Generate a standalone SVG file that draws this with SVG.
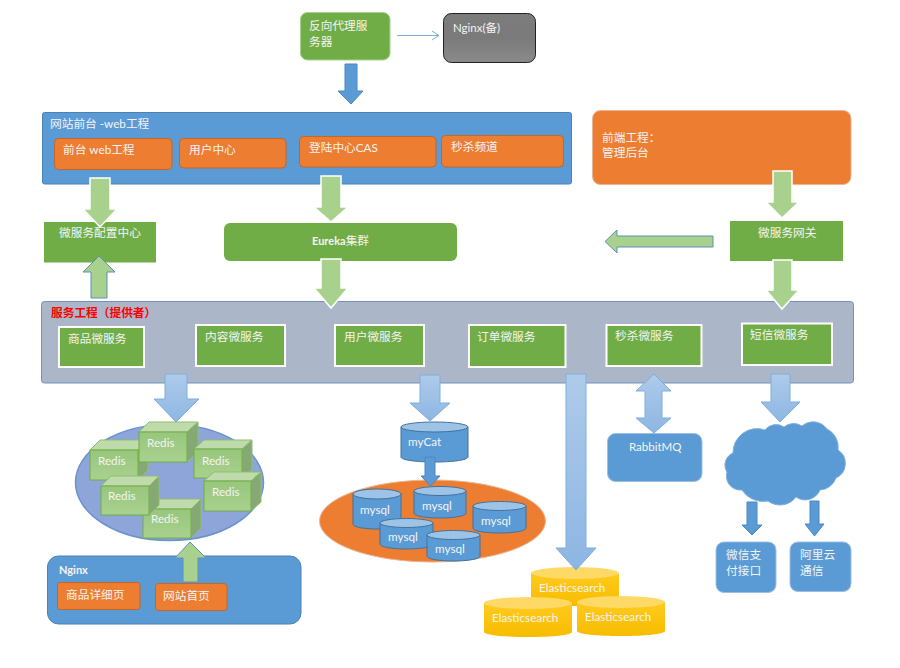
<svg xmlns="http://www.w3.org/2000/svg" width="900" height="668" viewBox="0 0 900 668">
<style>
text{font-family:"Lato","Noto Sans CJK SC","Noto Sans",sans-serif;font-size:11.700px;fill:#f4f4f4}
.b{fill:#5B9BD5;stroke:#4A82B5;stroke-width:1}
.bl{fill:#5B9BD5;stroke:#9DBFE2;stroke-width:1}
.o{fill:#ED7D31;stroke:#C4652A;stroke-width:1}
.ol{fill:#ED7D31;stroke:#E9B592;stroke-width:1}
.gs{fill:#70AD47;stroke:#fff;stroke-width:2}
.ag{fill:#A9D18E;stroke:#fff;stroke-width:1.500}
.ags{fill:#A9D18E;stroke:#5F8FB8;stroke-width:1}
.ab{fill:url(#blueArrow);stroke:#7FAEDD;stroke-width:1}
.ad{fill:#5B9BD5;stroke:#4A86BD;stroke-width:1}
.front{fill:url(#cubeFront);stroke:#70AD47;stroke-width:1}
.top{fill:#BFDBAB;stroke:#8DBF6E;stroke-width:1}
.side{fill:#85A875;stroke:#8DBF6E;stroke-width:1}
.cb{fill:#5B9BD5;stroke:#41719C;stroke-width:1}
.ct{fill:#9DC3E6;stroke:#41719C;stroke-width:1}
.ey{fill:url(#gold)}
.et{fill:#FFD966}
</style>
<defs>
<linearGradient id="blueArrow" x1="0" y1="0" x2="0" y2="1"><stop offset="0" stop-color="#AECBEA"/><stop offset="1" stop-color="#8DB6E3"/></linearGradient>
<linearGradient id="grey" x1="0" y1="0" x2="0" y2="1"><stop offset="0" stop-color="#7C7C7C"/><stop offset="0.5" stop-color="#7A7A7A"/><stop offset="1" stop-color="#8A8A8A"/></linearGradient>
<linearGradient id="cubeFront" x1="0" y1="0" x2="0" y2="1"><stop offset="0" stop-color="#97C67C"/><stop offset="1" stop-color="#A9D18E"/></linearGradient>
<linearGradient id="gold" x1="0" y1="0" x2="0" y2="1"><stop offset="0" stop-color="#FFCB1F"/><stop offset="1" stop-color="#F7BC00"/></linearGradient>
</defs>

<g id="proxy"><rect x="300.500" y="12.500" width="89.500" height="47.500" rx="7" fill="#70AD47" stroke="#A8CF90"/><text x="309" y="30">反向代理服</text><text x="309" y="46">务器</text></g>
<g id="nginx-backup"><rect x="443.500" y="13.500" width="92" height="49" rx="8" fill="url(#grey)" stroke="#222"/><text x="453" y="32" style="font-size:11.500px">Nginx(备)</text></g>

<g id="web"><rect x="42.500" y="112.500" width="529" height="71.500" rx="2" class="b"/><text x="50" y="128">网站前台 -web工程</text></g>
<g id="web-front"><rect x="54.500" y="138.500" width="117.500" height="31" rx="4" class="o"/><text x="63" y="154">前台 web工程</text></g>
<g id="web-user"><rect x="179.500" y="138.500" width="106.500" height="29.500" rx="4" class="o"/><text x="189" y="154">用户中心</text></g>
<g id="web-cas"><rect x="299.500" y="136.500" width="136.500" height="30.500" rx="4" class="o"/><text x="309" y="152">登陆中心CAS</text></g>
<g id="web-seckill"><rect x="441.500" y="135.500" width="122" height="31.500" rx="4" class="o"/><text x="451" y="151">秒杀频道</text></g>

<g id="admin"><rect x="592.500" y="110.500" width="258.500" height="74" rx="8" class="ol"/><text x="602" y="142">前端工程：</text><text x="602" y="157">管理后台</text></g>
<g id="config"><rect x="44" y="222" width="112" height="40.500" fill="#70AD47"/><text x="59" y="237">微服务配置中心</text></g>
<g id="eureka"><rect x="224" y="223" width="233" height="38" rx="6" fill="#70AD47"/><text x="312" y="245"><tspan style="font-weight:bold;font-size:11px">Eureka</tspan>集群</text></g>
<g id="gateway"><rect x="730" y="221" width="113" height="40" fill="#70AD47"/><text x="758" y="237">微服务网关</text></g>

<g id="service"><rect x="41.500" y="301.500" width="812" height="81.500" rx="3" fill="#ABB6C9" stroke="#6F93BD"/><text x="51" y="317" style="fill:#FF0000;font-weight:bold">服务工程（提供者）</text></g>
<g id="svc-goods"><rect x="59" y="327" width="85" height="40" class="gs"/><text x="68" y="343">商品微服务</text></g>
<g id="svc-content"><rect x="196" y="325" width="89" height="41" class="gs"/><text x="205" y="341">内容微服务</text></g>
<g id="svc-user"><rect x="335" y="325" width="89" height="41" class="gs"/><text x="344" y="341">用户微服务</text></g>
<g id="svc-order"><rect x="469" y="325" width="96.500" height="42" class="gs"/><text x="477" y="341">订单微服务</text></g>
<g id="svc-seckill"><rect x="606.500" y="325" width="95" height="41" class="gs"/><text x="615" y="340">秒杀微服务</text></g>
<g id="svc-sms"><rect x="742" y="323.500" width="90" height="41.500" class="gs"/><text x="750" y="339">短信微服务</text></g>

<g id="redis-cluster">
<ellipse cx="169.500" cy="482.500" rx="94" ry="58" fill="#8EA5D9" stroke="#6C93CF" stroke-width="1.500"/>
<g id="redis-1"><polygon class="top" points="90,450 100,440 148,440 138,450"/><polygon class="side" points="138,450 148,440 148,470 138,480"/><rect class="front" x="90" y="450" width="48" height="30"/><text x="98" y="465">Redis</text></g>
<g id="redis-2"><polygon class="top" points="139,432 149,422 198,422 187,432"/><polygon class="side" points="187,432 198,422 198,452 187,462"/><rect class="front" x="139" y="432" width="48" height="30"/><text x="147" y="447">Redis</text></g>
<g id="redis-3"><polygon class="top" points="194,449 204,440 252,440 242,449"/><polygon class="side" points="242,449 252,440 252,469 242,478"/><rect class="front" x="194" y="449" width="48" height="29"/><text x="202" y="465">Redis</text></g>
<g id="redis-4"><polygon class="top" points="204,481 214,472 261,472 251,481"/><polygon class="side" points="251,481 261,472 261,502 251,511"/><rect class="front" x="204" y="481" width="47" height="30"/><text x="212" y="496">Redis</text></g>
<g id="redis-6"><polygon class="top" points="143,509 153,499 201,499 191,509"/><polygon class="side" points="191,509 201,499 201,528 191,538"/><rect class="front" x="143" y="509" width="48" height="29"/><text x="151" y="523">Redis</text></g>
<g id="redis-5"><polygon class="top" points="101,486 111,476 159,476 149,486"/><polygon class="side" points="149,486 159,476 159,505 149,515"/><rect class="front" x="101" y="486" width="48" height="29"/><text x="108" y="500">Redis</text></g>
</g>

<g id="nginx"><rect x="47.500" y="556" width="253.500" height="68" rx="11" class="b"/><text x="59" y="574" style="font-size:11px;font-weight:bold">Nginx</text></g>
<g id="page-item"><rect x="57.500" y="582.500" width="82.500" height="27" rx="3" class="o"/><text x="66" y="599">商品详细页</text></g>
<g id="page-home"><rect x="155.500" y="583.500" width="71.500" height="27" rx="3" class="o"/><text x="163" y="600">网站首页</text></g>

<g id="mycat"><path class="cb" d="M401 427V457C401 460 416 462 434.500 462S468 460 468 457V427Z"/><ellipse class="ct" cx="434.500" cy="427" rx="33.500" ry="5"/><text x="408" y="446">myCat</text></g>

<g id="mysql-cluster">
<ellipse cx="432.500" cy="521" rx="113" ry="41" class="ol"/>
<g id="mysql-1"><path class="cb" d="M353 494V524C353 527 364 529 377 529S401 527 401 524V494Z"/><ellipse class="ct" cx="377" cy="494" rx="24" ry="5"/><text x="360" y="514">mysql</text></g>
<g id="mysql-2"><path class="cb" d="M414 491V513C414 516 426 518 440 518S466 516 466 513V491Z"/><ellipse class="ct" cx="440" cy="491" rx="26" ry="4.500"/><text x="422" y="510">mysql</text></g>
<g id="mysql-3"><path class="cb" d="M473 506V528C473 531 485 533 499.500 533S526 531 526 528V506Z"/><ellipse class="ct" cx="499.500" cy="506" rx="26.500" ry="4.500"/><text x="481" y="525">mysql</text></g>
<g id="mysql-4"><path class="cb" d="M380 523V544C380 547 392 549 406.500 549S433 547 433 544V523Z"/><ellipse class="ct" cx="406.500" cy="523" rx="26.500" ry="4.500"/><text x="388" y="541">mysql</text></g>
<g id="mysql-5"><path class="cb" d="M427 535V556C427 559 439 561 453.500 561S480 559 480 556V535Z"/><ellipse class="ct" cx="453.500" cy="535" rx="26.500" ry="4.500"/><text x="435" y="553">mysql</text></g>
</g>

<g id="es-1"><path class="ey" d="M531 573V601C531 604 551 606 575 606S619 604 619 601V573Z"/><ellipse class="et" cx="575" cy="573" rx="44" ry="6"/><text x="539" y="592">Elasticsearch</text></g>
<g id="es-2"><path class="ey" d="M484 603V632C484 635 504 637 528 637S572 635 572 632V603Z"/><ellipse class="et" cx="528" cy="603" rx="44" ry="6"/><text x="492" y="622">Elasticsearch</text></g>
<g id="es-3"><path class="ey" d="M577 602V631C577 634 597 636 621 636S665 634 665 631V602Z"/><ellipse class="et" cx="621" cy="602" rx="44" ry="6"/><text x="585" y="621">Elasticsearch</text></g>

<g id="rabbitmq"><rect x="607.500" y="433.500" width="94.500" height="48" rx="8" class="bl"/><text x="629" y="451" style="font-size:11.500px">RabbitMQ</text></g>
<g id="cloud"><path fill="#5B9BD5" stroke="#7FAEDB" d="M733 453A24 24 0 0 1 765 430A14 14 0 0 1 784 427A15 15 0 0 1 802 426A17 17 0 0 1 827 429A20 20 0 0 1 838 450A16 16 0 0 1 836 478A18 18 0 0 1 820 490A16 16 0 0 1 796 497A20 20 0 0 1 768 501A25 25 0 0 1 742 490A14 14 0 0 1 727 472A13 13 0 0 1 733 453Z"/></g>
<g id="wechat-pay"><rect x="716" y="542" width="60" height="50.500" rx="8" class="bl"/><text x="726" y="559">微信支</text><text x="726" y="575">付接口</text></g>
<g id="aliyun"><rect x="790" y="542" width="61" height="49.500" rx="8" class="bl"/><text x="800" y="559">阿里云</text><text x="800" y="575">通信</text></g>

<g id="connectors">
<path d="M397 35.500H438M432 31L439 35.500L432 40" fill="none" stroke="#7FAEDD" stroke-width="1"/>
<polygon class="ad" points="345,64 357,64 357,91 363,91 351,104 338,91 345,91"/>
<polygon class="ag" points="90,178 110,178 110,209 117,209 100,227 83,209 90,209"/>
<polygon class="ags" points="91,298 107,298 107,272 115,272 99,256 83,272 91,272"/>
<polygon class="ag" points="321,176 341,176 341,207 348,207 331,222 314,207 321,207"/>
<polygon class="ag" points="321,259 341,259 341,288 348,288 331,308 314,288 321,288"/>
<polygon class="ag" points="773,171 792,171 792,202 799,202 782,218 766,202 773,202"/>
<polygon class="ag" points="773,260 792,260 792,290 799,290 782,309 766,290 773,290"/>
<polygon class="ags" points="713,236 617,236 617,230 605,241.500 617,253 617,247 713,247"/>
<polygon class="ab" points="165,374 187,374 187,399 199,399 176,422 154,399 165,399"/>
<polygon class="ags" points="183,582 198,582 198,558 206,558 190,542 175,558 183,558"/>
<polygon class="ab" points="420,375 440,375 440,403 450,403 430,421 410,403 420,403"/>
<polygon class="ad" points="425,457 435,457 435,476 440,476 430.500,486 421,476 425,476"/>
<polygon class="ab" points="566,374 586,374 586,548 596,548 576,570 556,548 566,548"/>
<polygon class="ab" points="654,374 671,391 662,391 662,418 671,418 654,433 636,418 645,418 645,391 636,391"/>
<polygon class="ab" points="771,374 790,374 790,402 800,402 780,422 761,402 771,402"/>
<polygon class="ad" points="747,502 757,502 757,525 762,525 752,535 742,525 747,525"/>
<polygon class="ad" points="810,501 819,501 819,524 824,524 814.500,536 805,524 810,524"/>
</g>
</svg>
